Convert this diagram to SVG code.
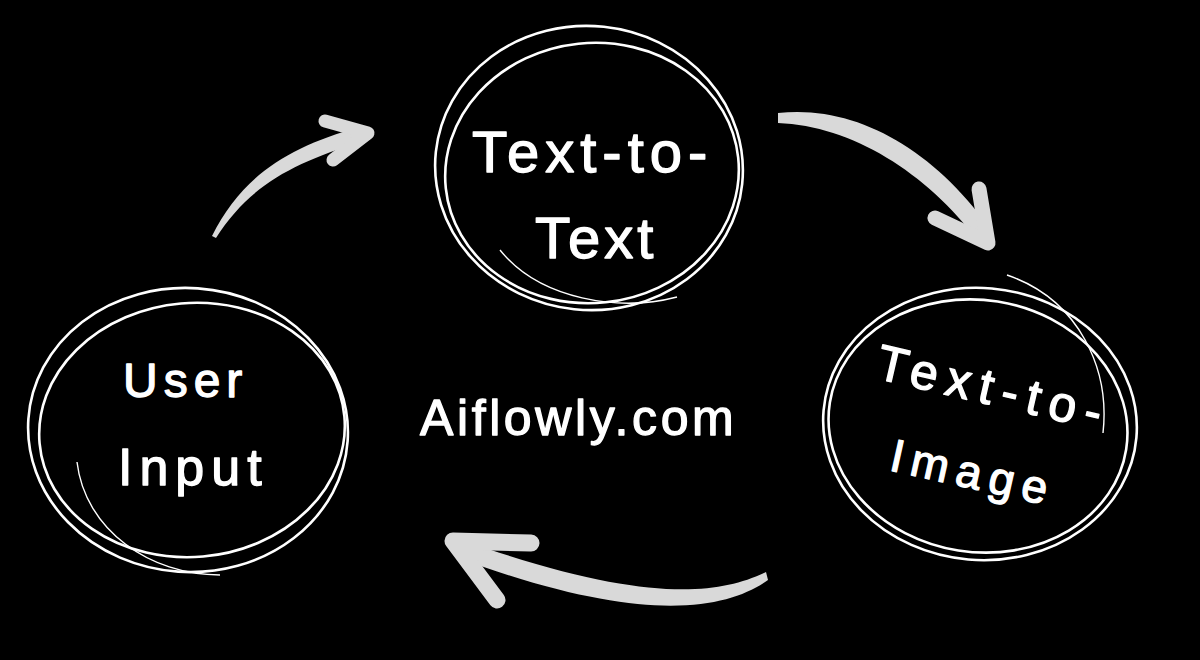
<svg xmlns="http://www.w3.org/2000/svg" width="1200" height="660" viewBox="0 0 1200 660">
<style>
.loop{fill:none;stroke:#ffffff;stroke-width:2.6}
.thin{fill:none;stroke:#ffffff;stroke-width:1.4}
.lbl{fill:#ffffff;stroke:#ffffff;stroke-width:1.3;stroke-linejoin:round;font-family:"Liberation Sans","DejaVu Sans",sans-serif}
.shaft{fill:#d9d9d9}
.head{fill:none;stroke:#d9d9d9;stroke-linecap:round;stroke-linejoin:round}
</style>
<rect width="1200" height="660" fill="#000000"/>
<g id="connectors">
  <g id="arrow-input-to-text">
    <path class="shaft" d="M212,236 C242,176 288,147 360,127 L364,141 C292,163 249,186 216,238 Z"/>
    <path class="head" stroke-width="13" d="M325,121 L368,133 L333,160"/>
  </g>
  <g id="arrow-text-to-image">
    <path class="shaft" d="M778,113 C856,104 936,150 993,233 L979,242 C926,172 852,126 778,123 Z"/>
    <path class="head" stroke-width="15" d="M979,189 L988,243 L935,218"/>
  </g>
  <g id="arrow-image-to-input">
    <path class="shaft" d="M766,572 C716,596 640,603 462,540 L456,557 C640,626 726,610 768,580 Z"/>
    <path class="head" stroke-width="17" d="M531,543 L453,541 L497,600"/>
  </g>
</g>
<g id="node-text-to-text">
  <ellipse class="loop" cx="589" cy="168" rx="154" ry="142" transform="rotate(6 589 168)"/>
  <ellipse class="loop" cx="592" cy="173" rx="147" ry="130" transform="rotate(-6 592 173)"/>
  <path class="thin" d="M500,250 C540,300 620,312 677,297"/>
  <text class="lbl" x="472" y="172" font-size="58" letter-spacing="6">Text-to-</text>
  <text class="lbl" x="535" y="258" font-size="58" letter-spacing="4">Text</text>
</g>
<g id="node-user-input">
  <ellipse class="loop" cx="188" cy="430" rx="160" ry="142" transform="rotate(4 188 430)"/>
  <ellipse class="loop" cx="192" cy="430" rx="153" ry="127" transform="rotate(-5 192 430)"/>
  <path class="thin" d="M77,462 C85,530 150,575 220,575"/>
  <text class="lbl" x="123" y="397" font-size="48" letter-spacing="6">User</text>
  <text class="lbl" x="118" y="485" font-size="52" letter-spacing="7">Input</text>
</g>
<g id="node-text-to-image">
  <ellipse class="loop" cx="980" cy="424" rx="157" ry="136" transform="rotate(5 980 424)"/>
  <ellipse class="loop" cx="978" cy="426" rx="150" ry="126" transform="rotate(9 978 426)"/>
  <path class="thin" d="M1007,275 C1080,300 1110,370 1103,433"/>
  <text class="lbl" x="874" y="378" font-size="50" letter-spacing="9" transform="rotate(13 874 378)">Text-to-</text>
  <text class="lbl" x="888" y="470" font-size="46" letter-spacing="8" transform="rotate(12.5 888 470)">Image</text>
</g>
<g id="brand">
  <text class="lbl" x="420" y="435" font-size="50" letter-spacing="3.6">Aiflowly.com</text>
</g>
</svg>
